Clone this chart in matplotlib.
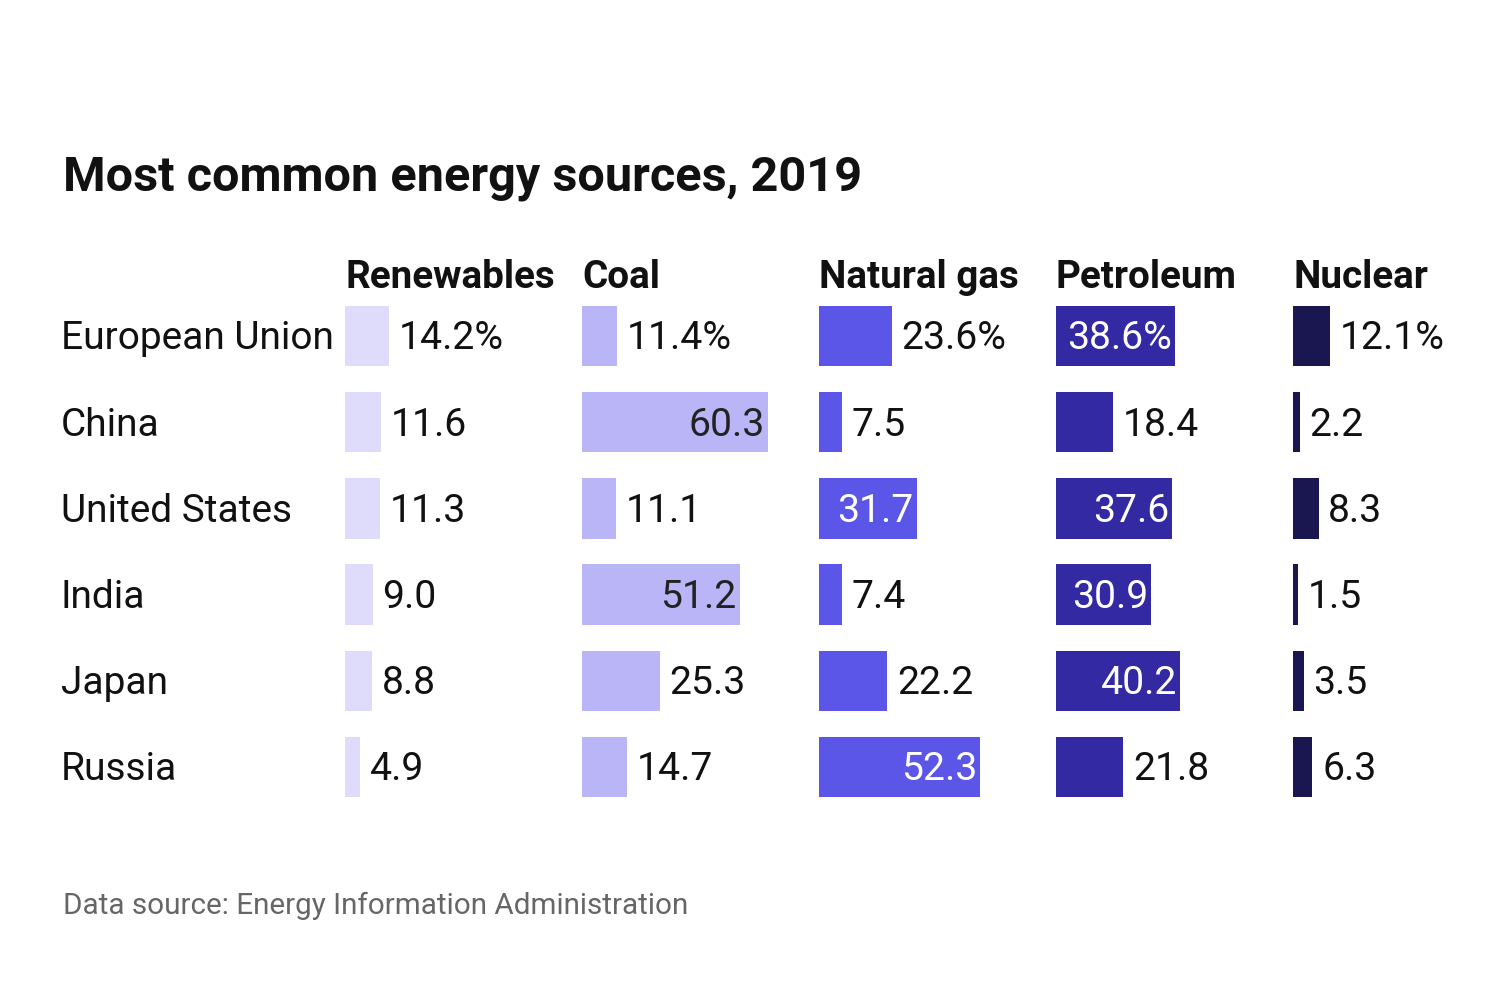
import matplotlib
matplotlib.use('Agg')
import matplotlib.pyplot as plt
import matplotlib.transforms as mtransforms

plt.rcParams['font.family'] = ['Roboto', 'DejaVu Sans']

countries = ['European Union', 'China', 'United States', 'India', 'Japan', 'Russia']
sources = ['Renewables', 'Coal', 'Natural gas', 'Petroleum', 'Nuclear']
renewables = [14.2, 11.6, 11.3, 9.0, 8.8, 4.9]
coal = [11.4, 60.3, 11.1, 51.2, 25.3, 14.7]
natural_gas = [23.6, 7.5, 31.7, 7.4, 22.2, 52.3]
petroleum = [38.6, 18.4, 37.6, 30.9, 40.2, 21.8]
nuclear = [12.1, 2.2, 8.3, 1.5, 3.5, 6.3]
values = [renewables, coal, natural_gas, petroleum, nuclear]

colors = ['#dedbfb', '#b9b5f7', '#5b55e8', '#3229a3', '#1a1650']
inside_colors = ['#222222', '#222222', 'white', 'white', 'white']

fig = plt.figure(figsize=(15, 10), dpi=100)
fig.patch.set_facecolor('white')

col_left = [345, 582, 819, 1056, 1293]
col_w = 237
bottom, height = 0.19, 0.517
label_size = 28.2

first_ax = None
for i, (src, vals) in enumerate(zip(sources, values)):
    ax = fig.add_axes([col_left[i] / 1500, bottom, col_w / 1500, height])
    if first_ax is None:
        first_ax = ax
    ax.barh(range(len(countries)), vals, height=0.7, color=colors[i])
    ax.set_xlim(0, 77)
    ax.set_ylim(len(countries) - 0.5, -0.5)
    ax.axis('off')
    for j, v in enumerate(vals):
        txt = f'{v:.1f}%' if j == 0 else f'{v:.1f}'
        if v >= 30:
            ax.annotate(txt, (v, j), xytext=(-2, -2), textcoords='offset points',
                        ha='right', va='center', fontsize=label_size,
                        color=inside_colors[i])
        else:
            ax.annotate(txt, (v, j), xytext=(7, -2), textcoords='offset points',
                        ha='left', va='center', fontsize=label_size,
                        color='#111111')
    fig.text(col_left[i] / 1500, 1 - 277 / 1000, src, ha='left', va='center',
             fontsize=27.8, fontweight='bold', color='#111111')

trans = mtransforms.blended_transform_factory(fig.transFigure, first_ax.transData)
offset = mtransforms.ScaledTranslation(0, -2 / 72, fig.dpi_scale_trans)
for j, c in enumerate(countries):
    first_ax.text(61 / 1500, j, c, transform=trans + offset, ha='left', va='center',
                  fontsize=28, color='#111111', clip_on=False)

fig.text(63 / 1500, 1 - 178 / 1000, 'Most common energy sources, 2019',
         ha='left', va='center', fontsize=35, fontweight='bold', color='#111111')
fig.text(63 / 1500, 1 - 906 / 1000, 'Data source: Energy Information Administration',
         ha='left', va='center', fontsize=21.3, color='#666666')

fig.savefig('out.png', dpi=100, facecolor='white')
